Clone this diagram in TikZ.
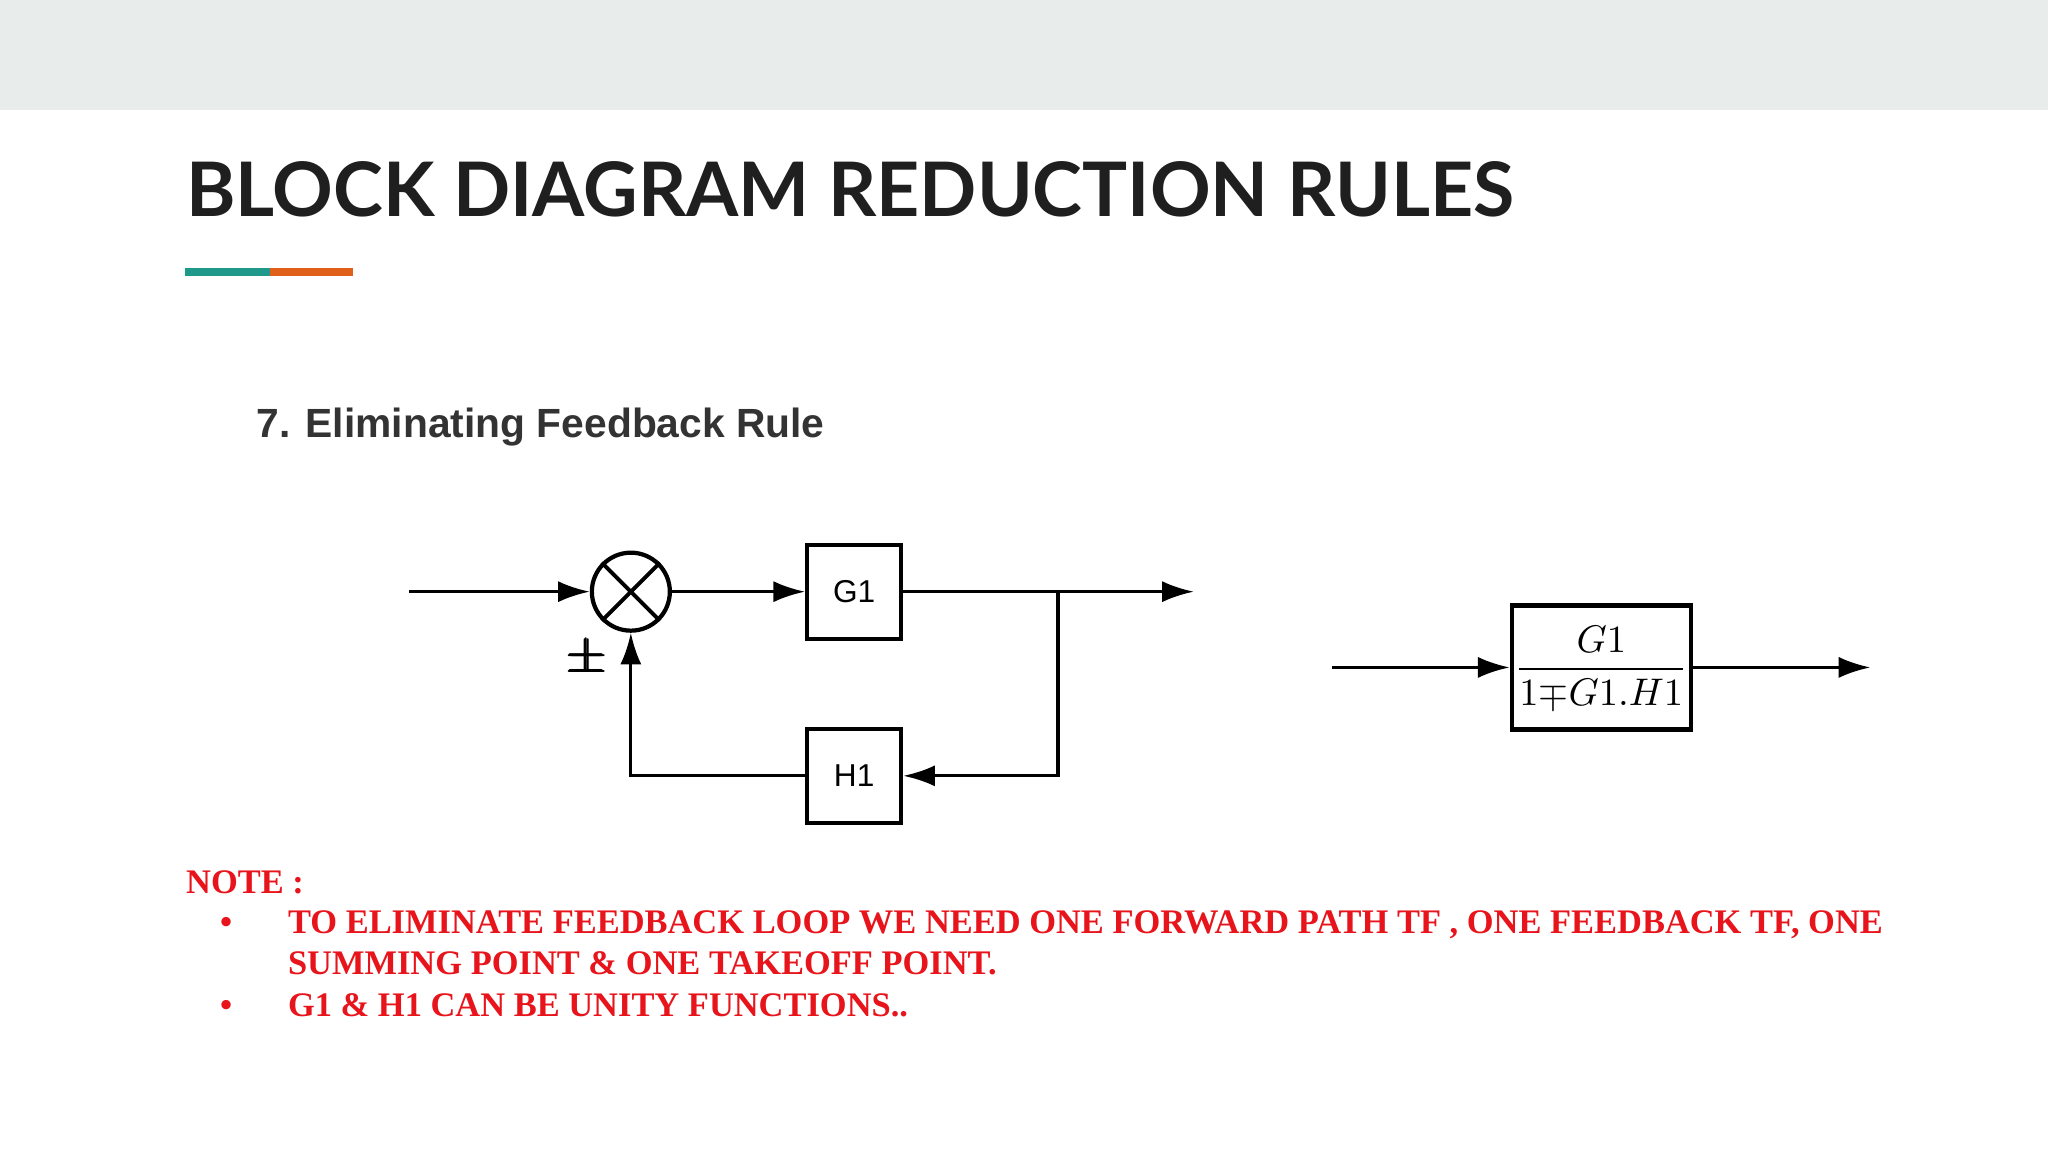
\documentclass[tikz,border=0pt]{standalone}
\usepackage{amsmath}
\usepackage{fontspec}
\setmainfont{Liberation Serif}
\newfontfamily\titlefont{Lato}
\newfontfamily\arialfont{Liberation Sans}
\usetikzlibrary{arrows.meta}
\definecolor{band}{HTML}{E8ECEA}
\definecolor{teal}{HTML}{1F9A8A}
\definecolor{orng}{HTML}{E0601A}
\definecolor{notered}{HTML}{E8141B}
\begin{document}
\begin{tikzpicture}[x=0.01306cm,y=-0.01306cm,
  blk/.style={draw,line width=1.2pt,minimum width=0.94cm,minimum height=0.94cm,inner sep=0pt,font=\arialfont\small},
  conn/.style={line width=0.9pt},
  arr/.style={conn,-{Latex[length=9pt,width=6pt]}},
  note/.style={anchor=base west,text=notered,font=\bfseries\fontsize{9.8}{12}\selectfont,inner sep=0pt}]
\useasboundingbox (0,0) rectangle (1568,882);
\fill[band] (0,0) rectangle (1568,84);
\node[anchor=base west,inner sep=0pt,font=\titlefont\bfseries\fontsize{21.4}{26}\selectfont,text=black!88] (title) at (142,166) {BLOCK DIAGRAM REDUCTION RULES};
\fill[teal] (142,205) rectangle (207,211);
\fill[orng] (207,205) rectangle (270,211);
\node[anchor=west,inner sep=0pt,font=\arialfont\bfseries\fontsize{11.6}{14}\selectfont,text=black!80] (sub) at (196,327) {7. Eliminating Feedback Rule};
% left diagram
\coordinate (in) at (313,453);
\node[draw,circle,line width=1.2pt,minimum size=0.78cm,inner sep=0pt] (sum) at (483,453) {};
\draw[line width=1.1pt] (sum.north west) -- (sum.south east) (sum.north east) -- (sum.south west);
\node[blk] (g1) at (654,453) {G1};
\node[blk] (h1) at (654,594) {H1};
\coordinate (out) at (914,453);
\coordinate (tk) at (810,453);
\coordinate (tkd) at (810,594);
\coordinate (fbl) at (483,594);
\draw[arr] (in) -- (sum.west);
\draw[arr] (sum.east) -- (g1.west);
\draw[arr] (g1.east) -- (out);
\draw[arr] (tk) -- (tkd) -- (h1.east);
\draw[arr] (h1.west) -- (fbl) -- (sum.south);
\node[font=\fontsize{15}{15}\selectfont] (pm) at (450,505) {$\pmb{\pm}$};
% right diagram
\node[draw,line width=1.2pt,minimum width=1.72cm,minimum height=1.24cm,inner sep=1pt,font=\fontsize{11}{13}\selectfont] (eq) at (1226,511) {$\dfrac{G1}{1{\mp}G1.H1}$};
\coordinate (in2) at (1020,511);
\coordinate (out2) at (1432,511);
\draw[arr] (in2) -- (eq.west);
\draw[arr] (eq.east) -- (out2);
% notes
\node[note] (n0) at (142,684) {NOTE :};
\node[note] (b1) at (168,715) {\textbullet};
\node[note] (t1) at (220,715) {TO ELIMINATE FEEDBACK LOOP WE NEED ONE FORWARD PATH TF , ONE FEEDBACK TF, ONE};
\node[note] (t1b) at (220,746) {SUMMING POINT \& ONE TAKEOFF POINT.};
\node[note] (b2) at (168,778) {\textbullet};
\node[note] (t2) at (220,778) {G1 \& H1 CAN BE UNITY FUNCTIONS..};
\end{tikzpicture}
\end{document}
